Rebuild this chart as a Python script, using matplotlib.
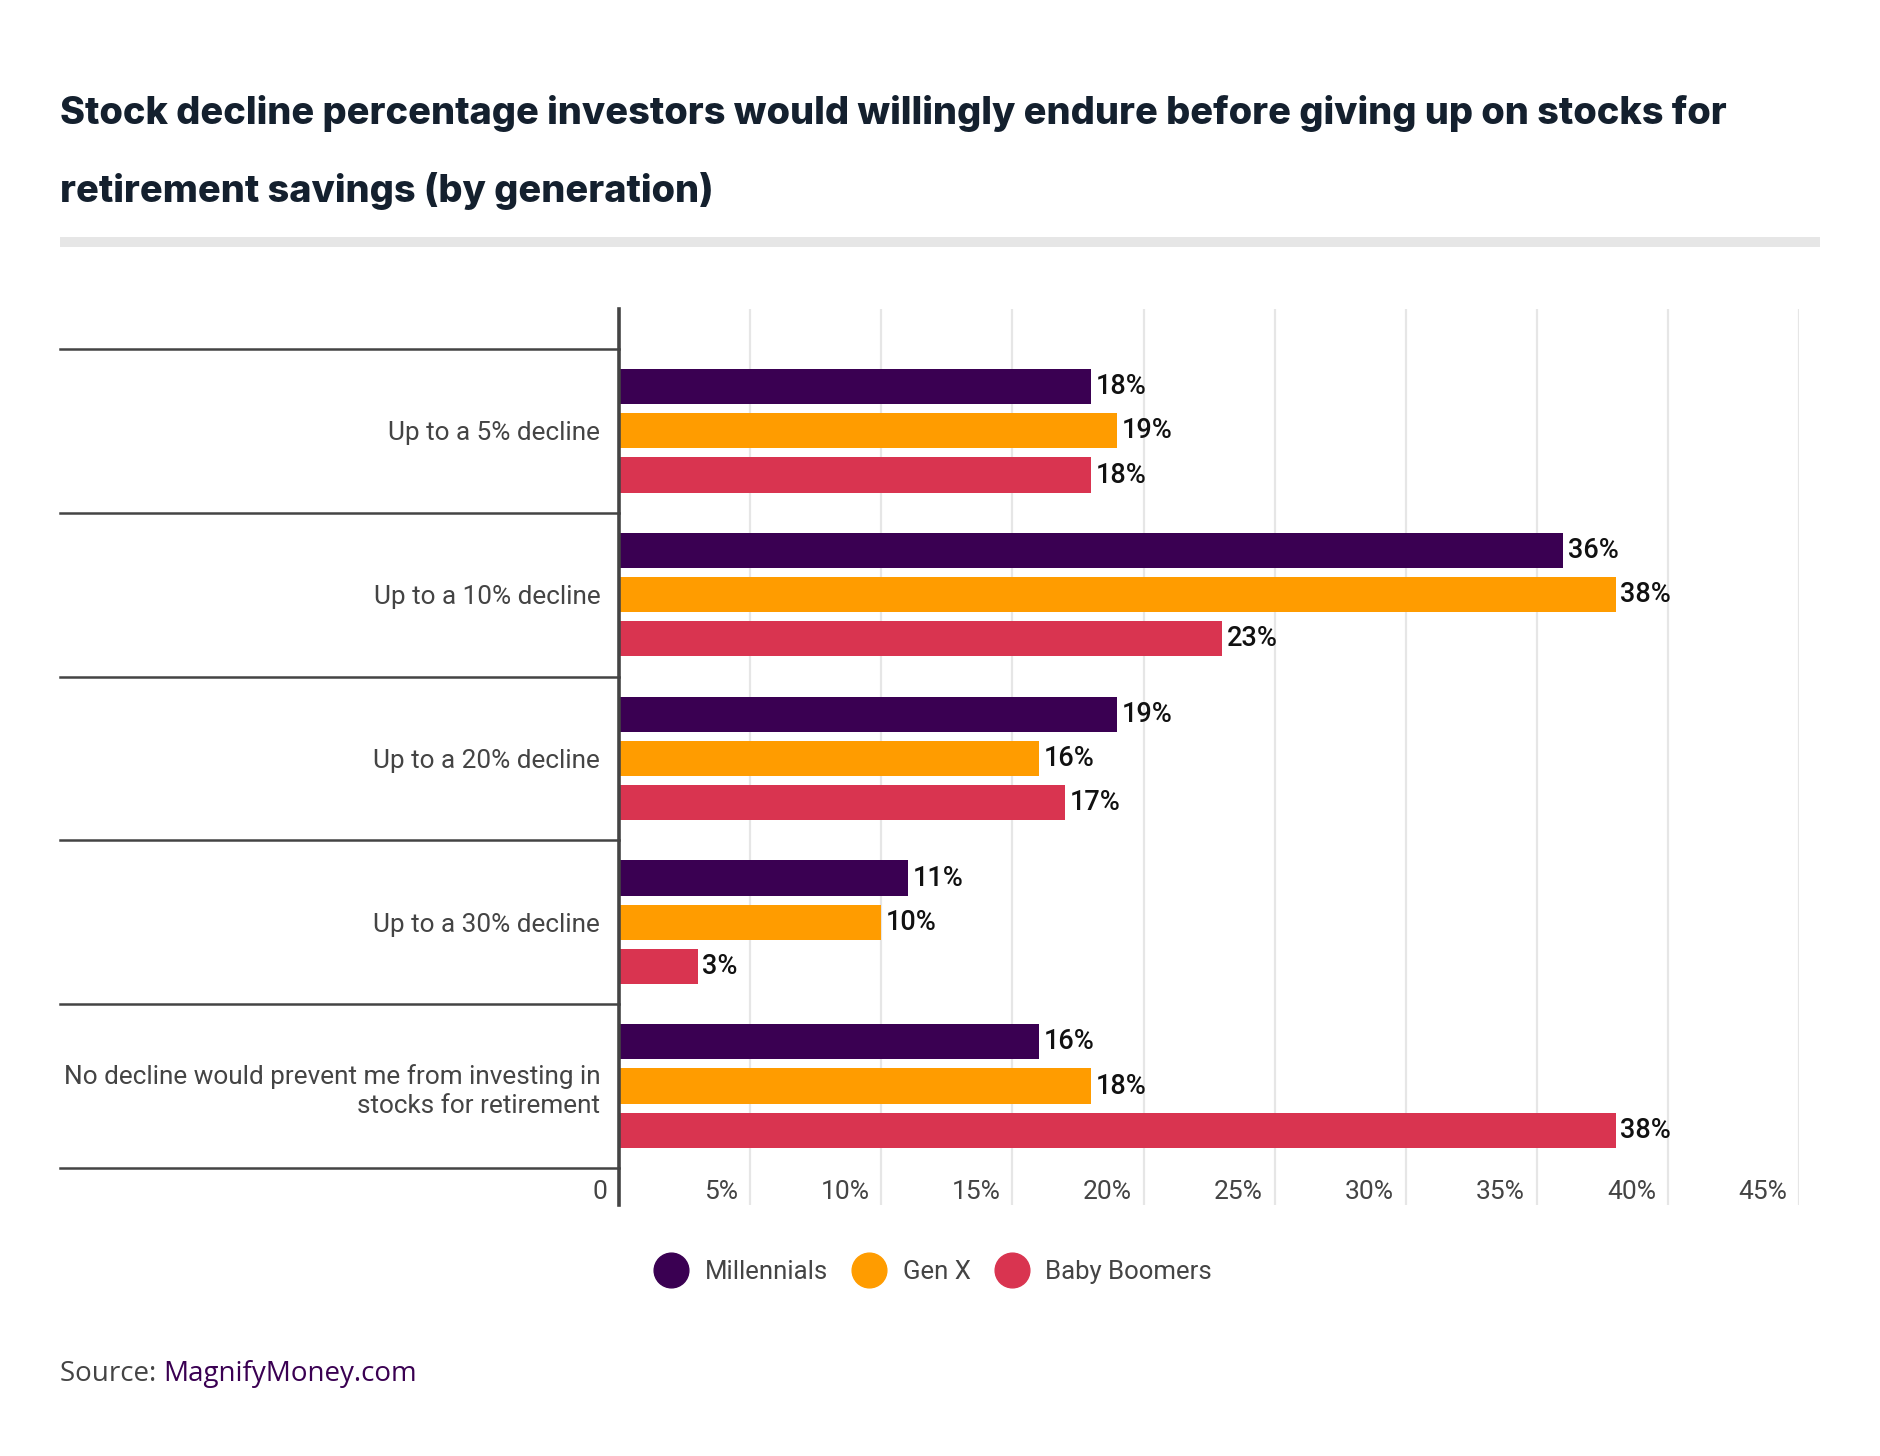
import matplotlib
matplotlib.use("Agg")
import matplotlib.pyplot as plt
from matplotlib.lines import Line2D
import numpy as np

# data
categories = ["Up to a 5% decline", "Up to a 10% decline", "Up to a 20% decline",
              "Up to a 30% decline",
              "No decline would prevent me from investing in\nstocks for retirement"]
millennials = [18, 36, 19, 11, 16]
gen_x = [19, 38, 16, 10, 18]
boomers = [18, 23, 17, 3, 38]
series_names = ["Millennials", "Gen X", "Baby Boomers"]
colors = ["#3a0052", "#ff9c00", "#d93450"]
xticks = [0, 5, 10, 15, 20, 25, 30, 35, 40, 45]

plt.rcParams['font.family'] = ['Roboto', 'DejaVu Sans']

fig = plt.figure(figsize=(18.8, 14.56), dpi=100)
ax = fig.add_axes([0.3293, 0.1724, 0.6277, 0.6154])

y = np.arange(len(categories))
offsets = [-0.27, 0, 0.27]
bar_h = 0.215
for vals, off, col in zip([millennials, gen_x, boomers], offsets, colors):
    bars = ax.barh(y + off, vals, height=bar_h, color=col, zorder=3)
    for b, v in zip(bars, vals):
        ax.text(v + 0.18, b.get_y() + b.get_height() / 2, f"{v}%",
                va="center", ha="left", fontsize=19.5, color="#111111",
                fontweight="medium", zorder=4)

ax.set_xlim(0, 45)
ax.set_ylim(4.726, -0.744)

# gridlines
for t in xticks[1:]:
    ax.axvline(t, color="#e6e6e6", lw=1.6, zorder=0)

# tick labels drawn inside the plot area
for t in xticks:
    lab = "0" if t == 0 else f"{t}%"
    ax.text(t - 0.45, 4.648, lab, ha="right", va="center",
            fontsize=19, color="#444444")

ax.set_xticks([])
ax.set_yticks(y)
ax.set_yticklabels(categories, fontsize=18.8, color="#444444", linespacing=1.25)
ax.tick_params(axis="y", length=0, pad=13.5)

for s in ["top", "right", "bottom"]:
    ax.spines[s].set_visible(False)
ax.spines["left"].set_color("#444444")
ax.spines["left"].set_linewidth(2.6)
ax.spines["left"].set_zorder(5)

# category separators extending to the left
xmin_frac = (60 - 619) / (1799 - 619)
for b in np.arange(len(categories) + 1) - 0.5:
    ax.plot([xmin_frac, 0], [b, b], transform=ax.get_yaxis_transform(),
            color="#444444", lw=1.8, clip_on=False)

# title
fig.text(60 / 1880, 1 - 113 / 1456,
         "Stock decline percentage investors would willingly endure before giving up on stocks for",
         fontsize=27.3, fontweight="heavy", color="#14202e", va="center", ha="left",
         family=["Inter", "DejaVu Sans"])
fig.text(60 / 1880, 1 - 191 / 1456, "retirement savings (by generation)",
         fontsize=27.3, fontweight="heavy", color="#14202e", va="center", ha="left",
         family=["Inter", "DejaVu Sans"])
fig.add_artist(plt.Rectangle((60 / 1880, 1 - 247 / 1456), 1760 / 1880, 10 / 1456,
                             transform=fig.transFigure, color="#e6e6e6", lw=0))

# legend
handles = [Line2D([], [], marker="o", ls="", markersize=25, color=c) for c in colors]
leg = fig.legend(handles, series_names, loc="center", bbox_to_anchor=(0.494, 1 - 1272 / 1456),
                 ncol=3, frameon=False, fontsize=18.5, handletextpad=0.3,
                 columnspacing=0.6)
for t in leg.get_texts():
    t.set_color("#444444")

# source
src = fig.text(60 / 1880, 1 - 1374 / 1456, "Source: ", fontsize=20, color="#444444",
               va="center", ha="left", family=["Open Sans", "DejaVu Sans"])
fig.canvas.draw()
bb = src.get_window_extent()
fig.text(bb.x1 / fig.bbox.width, 1 - 1374 / 1456, "MagnifyMoney.com", fontsize=20,
         color="#3a0052", va="center", ha="left", family=["Open Sans", "DejaVu Sans"])

fig.savefig("out.png", dpi=100, facecolor="white")
